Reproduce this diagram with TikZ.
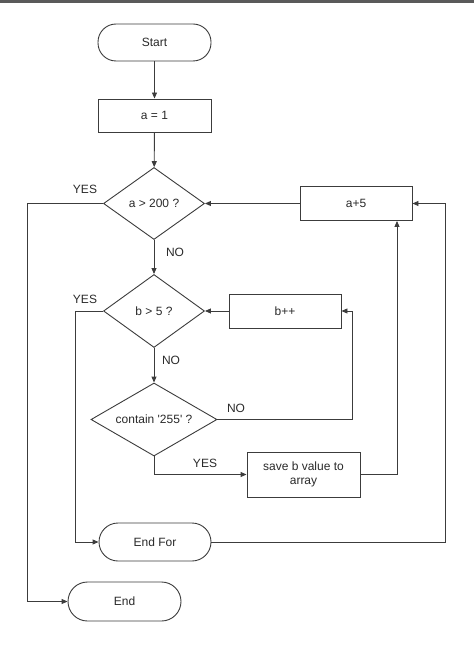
\documentclass[tikz,border=0pt]{standalone}
\usepackage{fontspec}
\setmainfont{Liberation Sans}
\usetikzlibrary{shapes.geometric,arrows.meta}
\definecolor{lc}{HTML}{3C3C3C}
\definecolor{tc}{HTML}{2A2A2A}
\definecolor{barc}{HTML}{5A5A5A}
\begin{document}
\begin{tikzpicture}[x=1pt,y=-1pt,
  base/.style={draw=lc, line width=0.9pt, font=\fontsize{12}{14}\selectfont, text=tc, inner sep=0pt, fill=white},
  term/.style={base, rectangle, minimum width=113pt, minimum height=37pt, rounded corners=18pt},
  proc/.style={base, rectangle, minimum width=113pt, minimum height=34pt},
  dec/.style={base, diamond, aspect=1.4},
  conn/.style={draw=lc, line width=0.9pt, -{Triangle[length=6pt,width=5pt]}},
  lab/.style={font=\fontsize{12}{14}\selectfont, text=tc, inner sep=0pt}]
\useasboundingbox (0,0) rectangle (474,647);
\fill[barc] (0,0) rectangle (474,3);
\node[term] (start) at (154.5,42.5) {Start};
\node[proc, minimum height=33pt] (a1) at (154.5,115.5) {a = 1};
\node[dec, minimum width=101pt, minimum height=72pt] (d1) at (154,203.5) {a > 200 ?};
\node[proc, minimum width=112pt] (a5) at (356,203.5) {a+5};
\node[dec, minimum width=101pt, minimum height=73pt] (d2) at (154,311) {b > 5 ?};
\node[proc, minimum width=112pt] (bpp) at (285,311) {b++};
\node[dec, aspect=1.73, minimum width=126pt, minimum height=73pt] (d3) at (154,419.5) {contain \textquotesingle 255\textquotesingle\ ?};
\node[proc, minimum height=45pt, align=center] (save) at (303.5,474.5) {save b value to\\array};
\node[term, minimum width=112pt, minimum height=38pt, rounded corners=19pt] (endfor) at (155,542) {End For};
\node[term, minimum height=39pt, rounded corners=19.5pt] (end) at (124.5,601.5) {End};
\draw[conn] (start) -- (a1);
\draw[conn] (a1) -- (d1);
\draw[conn] (d1.west) -- ++(-75.5,0) |- (end.west);
\draw[conn] (d1) -- (d2);
\draw[conn] (d2.west) -- ++(-27.5,0) |- (endfor.west);
\draw[conn] (d2) -- (d3);
\draw[conn] (d3.east) -- ++(135,0) |- (bpp.east);
\draw[conn] (bpp) -- (d2);
\draw[conn] (d3.south) |- (save.west);
\draw[conn] (save.east) -| ([xshift=41pt]a5.south);
\draw[conn] (endfor.east) -- ++(234,0) |- (a5.east);
\draw[conn] (a5) -- (d1);
\node[lab] (l1) at (85,189) {YES};
\node[lab] (l2) at (175,252) {NO};
\node[lab] (l3) at (85,299) {YES};
\node[lab] (l4) at (171,360) {NO};
\node[lab] (l5) at (236,408) {NO};
\node[lab] (l6) at (205,463) {YES};
\end{tikzpicture}
\end{document}
